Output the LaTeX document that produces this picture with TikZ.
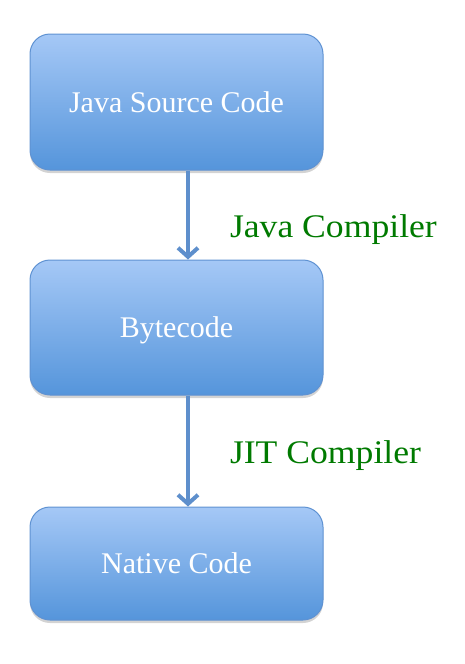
\documentclass[tikz,border=0pt]{standalone}
\usepackage{fontspec}
\setmainfont{Liberation Serif}
\usetikzlibrary{arrows.meta,shadows,shadings}
\definecolor{boxtop}{HTML}{A5C8F6}
\definecolor{boxbot}{HTML}{5595DB}
\definecolor{boxline}{HTML}{5F92D2}
\definecolor{arrowc}{HTML}{5E8FCC}
\definecolor{labelgreen}{HTML}{007A00}
\tikzset{
  stagebox/.style={rounded corners=20pt, draw=boxline, line width=1pt,
    top color=boxtop, bottom color=boxbot, minimum width=293pt,
    text=white, font=\fontsize{30}{34}\selectfont,
    drop shadow={shadow xshift=0pt, shadow yshift=-3pt, opacity=0.35}},
  flow/.style={draw=arrowc, line width=4pt, -{Straight Barb[length=9pt,width=20pt,line width=4pt]}},
  steplabel/.style={text=labelgreen, font=\fontsize{33}{36}\selectfont\addfontfeature{FakeStretch=1.08}, inner sep=0pt}
}
\begin{document}
\begin{tikzpicture}[x=1pt,y=1pt]
\useasboundingbox (0,0) rectangle (464,-664);
\node[stagebox, minimum height=136pt, text depth=-3pt] (src) at (176.5,-102) {Java Source Code};
\node[stagebox, minimum height=135pt, text depth=-3pt] (byte) at (176.5,-327.5) {Bytecode};
\node[stagebox, minimum height=113pt, text depth=-3pt] (nat) at (176.5,-563.5) {Native Code};
\draw[flow] ([xshift=11.5pt]src.south) -- ([xshift=11.5pt]byte.north)
  node[steplabel, pos=0.66, right=40pt] (jc) {Java Compiler};
\draw[flow] ([xshift=11.5pt]byte.south) -- ([xshift=11.5pt]nat.north)
  node[steplabel, pos=0.54, right=40pt] (jit) {JIT Compiler};
\end{tikzpicture}
\end{document}
